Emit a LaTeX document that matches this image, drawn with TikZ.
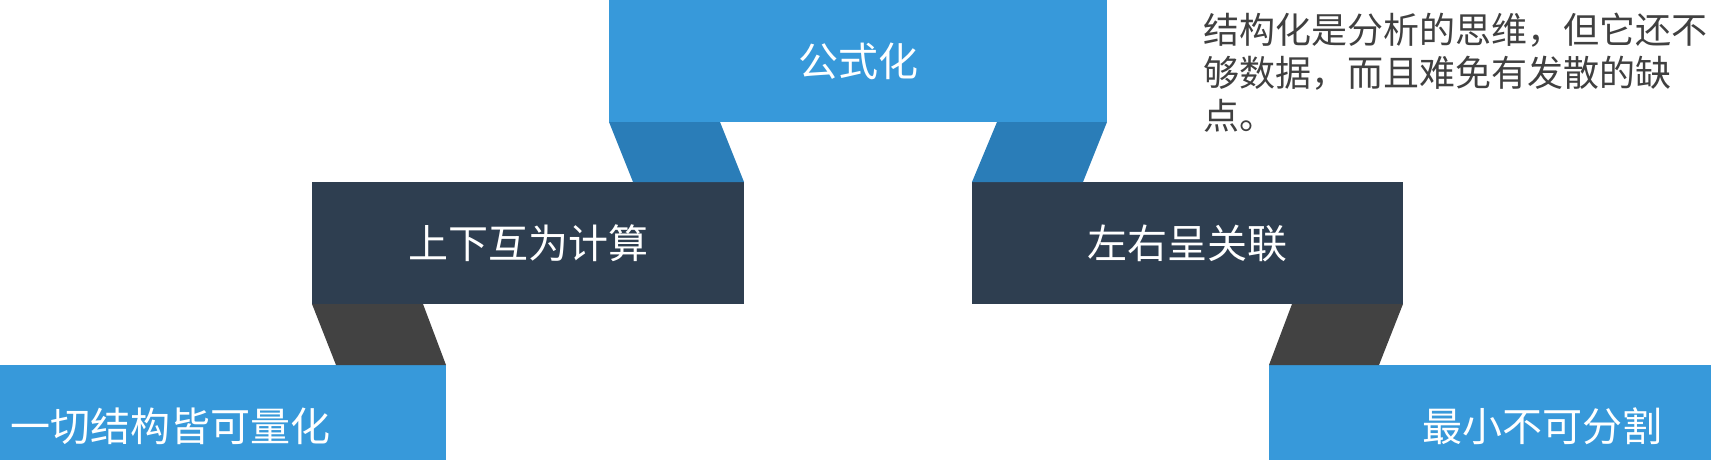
\documentclass[tikz,border=0pt]{standalone}
\usepackage{fontspec}
\setmainfont{Noto Sans CJK SC}
\usepackage{xcolor}
\definecolor{ribbonblue}{HTML}{3799DA}
\definecolor{foldblue}{HTML}{2A7DB8}
\definecolor{ribbonnavy}{HTML}{2E3E50}
\definecolor{foldgray}{HTML}{424242}
\definecolor{notegray}{HTML}{404040}

\begin{document}
\begin{tikzpicture}[x=1pt,y=-1pt,
    band/.style={anchor=north west,inner sep=0pt,outer sep=0pt,
      minimum height=122pt,text=white,font=\fontsize{40}{48}\selectfont},
    note/.style={anchor=north west,inner sep=0pt,align=left,
      text=notegray,font=\fontsize{36}{43}\selectfont}]
  \useasboundingbox (0,0) rectangle (1711,460);

  \path (609,0)
    node (gs) [band,fill=ribbonblue,minimum width=498pt] {公式化}
    (312,182)
    node (sx) [band,fill=ribbonnavy,minimum width=432pt] {上下互为计算}
    (972,182)
    node (zy) [band,fill=ribbonnavy,minimum width=431pt] {左右呈关联}
    (-106,365)
    node (lh) [band,fill=ribbonblue,minimum width=552pt] {一切结构皆可量化}
    (1269,365)
    node (fg) [band,fill=ribbonblue,minimum width=546pt] {最小不可分割}
    ;
  \node (nt) [note] at (1203,13)
    {结构化是分析的思维，但它还不\\够数据，而且难免有发散的缺\\点。};

  \path (node cs:name=gs,anchor=south west) +(111,0) coordinate (gsl) {};
  \path (node cs:name=sx,anchor=north east) +(-111,0) coordinate (sxi) {};
  \fill[foldblue] (gs.south west) -- (gsl) -- (sx.north east) -- (sxi) -- cycle;
  \path (node cs:name=gs,anchor=south east) +(-110,0) coordinate (gsr) {};
  \path (node cs:name=zy,anchor=north west) +(111,0) coordinate (zyi) {};
  \fill[foldblue] (gs.south east) -- (gsr) -- (zy.north west) -- (zyi) -- cycle;

  \path (node cs:name=sx,anchor=south west) +(111,0) coordinate (sxo) {};
  \path (node cs:name=lh,anchor=north east) +(-110,0) coordinate (lhi) {};
  \fill[foldgray] (sx.south west) -- (sxo) -- (lh.north east) -- (lhi) -- cycle;
  \path (node cs:name=zy,anchor=south east) +(-111,0) coordinate (zyo) {};
  \path (node cs:name=fg,anchor=north west) +(110,0) coordinate (fgi) {};
  \fill[foldgray] (zy.south east) -- (zyo) -- (fg.north west) -- (fgi) -- cycle;
\end{tikzpicture}
\end{document}
